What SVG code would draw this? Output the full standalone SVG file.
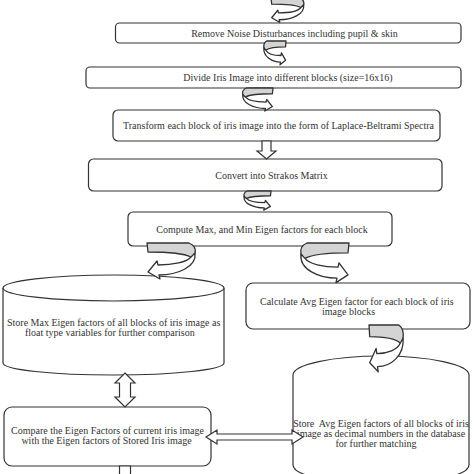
<svg xmlns="http://www.w3.org/2000/svg" xmlns:xlink="http://www.w3.org/1999/xlink" width="474" height="474" viewBox="0 0 474 474">
<style>
.box{fill:#fff;stroke:#333;stroke-width:1.2}
.cyl{fill:#fff;stroke:#333;stroke-width:1.2}
.t{font-family:"Liberation Serif","Times New Roman",serif;font-size:10px;fill:#333}
.c{text-anchor:middle}
.g{fill:#d4d4d4;stroke:#333;stroke-width:1.3;stroke-linejoin:round;vector-effect:non-scaling-stroke}
.w{fill:#fff;stroke:#333;stroke-width:1.3;stroke-linejoin:round;vector-effect:non-scaling-stroke}
.ar{fill:#fff;stroke:#333;stroke-width:1.2;stroke-linejoin:miter}
</style>
<defs>
<g id="curl">
<path class="g" d="M0,0 L42,0 C47,2 49,6 48,10 C47,13 46,14 44,14 C36,10 18,9 1,9 Z"/>
<path class="w" d="M48,10 C50,24 30,32 12,32 L13,36 L1,29 L10,18 L11,22 C26,22 40,19 44,14 Z"/>
</g>
</defs>
<rect width="474" height="474" fill="#fff"/>
<g id="n1"><rect class="box" x="115.5" y="23" width="345.5" height="20" rx="4"/><text class="t c" x="294.5" y="36.5">Remove Noise Disturbances including pupil &amp; skin</text></g>
<g id="n2"><rect class="box" x="86" y="67" width="375" height="21" rx="4"/><text class="t c" x="288" y="81">Divide Iris Image into different blocks (size=16x16)</text></g>
<g id="n3"><rect class="box" x="113" y="110" width="327" height="31" rx="5"/><text class="t c" x="278.5" y="128.5">Transform each block of iris image into the form of Laplace-Beltrami Spectra</text></g>
<g id="n4"><rect class="box" x="88.5" y="159" width="353.5" height="32" rx="5"/><text class="t c" x="271.5" y="179">Convert into Strakos Matrix</text></g>
<g id="n5"><rect class="box" x="128" y="212" width="264" height="34" rx="5"/><text class="t c" x="262" y="233">Compute Max, and Min Eigen factors for each block</text></g>
<g id="n6"><path class="cyl" d="M3,288 L3,363 A110.5,12 0 0 0 224,363 L224,288"/><ellipse class="cyl" cx="113.5" cy="288" rx="110.5" ry="13"/>
<text class="t" x="7" y="326">Store Max Eigen factors of all blocks of iris image as</text>
<text class="t" x="25" y="336">float type variables for further comparison</text></g>
<g id="n7"><rect class="box" x="246" y="283" width="224" height="46" rx="7"/>
<text class="t" x="260" y="305">Calculate Avg Eigen factor for each block of iris</text>
<text class="t" x="322" y="315">image blocks</text></g>
<g id="n8"><path class="cyl" d="M293,375 L293,465 A88,19 0 0 0 469,465 L469,375 A88,19 0 0 0 293,375 Z"/>
<text class="t c" x="381" y="427" xml:space="preserve">Store  Avg Eigen factors of all blocks of iris</text>
<text class="t c" x="381" y="437">image as decimal numbers in the database</text>
<text class="t c" x="376" y="447">for further matching</text></g>
<g id="n9"><rect class="box" x="4" y="407" width="207" height="59" rx="8"/>
<text class="t c" x="107.5" y="434">Compare the Eigen Factors of current iris image</text>
<text class="t c" x="106.5" y="444">with the Eigen factors of Stored Iris image</text></g>
<g id="connectors">
<use xlink:href="#curl" transform="translate(271,-2) scale(0.68,0.68)"/>
<use xlink:href="#curl" transform="translate(286,41) scale(-0.46,0.66)"/>
<use xlink:href="#curl" transform="translate(273,88) scale(-0.63,0.64)"/>
<path class="ar" d="M262,141 L271,141 L271,151 L276,151 L266.5,159 L257,151 L262,151 Z"/>
<use xlink:href="#curl" transform="translate(271,191) scale(-0.56,0.53)"/>
<use xlink:href="#curl" transform="translate(147,243)"/>
<use xlink:href="#curl" transform="translate(349,243) scale(-1,1.1)"/>
<use xlink:href="#curl" transform="translate(369,325) scale(0.71,1.3)"/>
<path class="ar" d="M125,373 L135,383 L130.5,383 L130.5,397 L135,397 L125,407 L115,397 L119.5,397 L119.5,383 L115,383 Z"/>
<path class="ar" d="M206,437 L217,430 L217,434 L292,434 L292,430 L303,437 L292,444 L292,440 L217,440 L217,444 Z"/>
<path class="ar" d="M119.5,474 L119.5,466 L130.5,466 L130.5,474"/>
</g>
</svg>
